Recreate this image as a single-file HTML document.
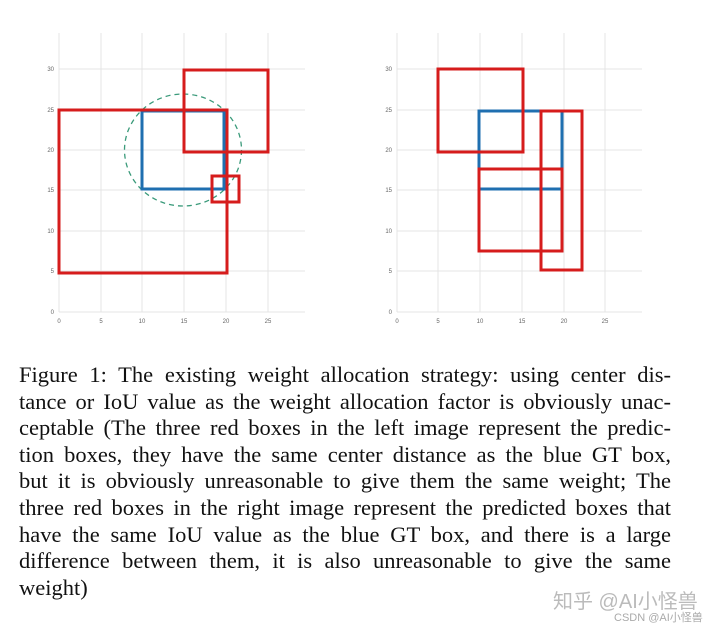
<!DOCTYPE html>
<html><head><meta charset="utf-8"><style>
body{margin:0;width:723px;height:629px;background:#fff;position:relative;overflow:hidden;font-family:"Liberation Serif",serif}
svg{position:absolute;left:0;top:0}
.cap{position:absolute;left:19px;width:652px;font-size:22.5px;color:#111}
.l{height:26.6px;line-height:26.6px;text-align:justify;text-align-last:justify;white-space:nowrap}
.l.last{text-align-last:left}
.wm{position:absolute;font-family:"Liberation Sans","Noto Sans CJK SC",sans-serif;color:#bbb}
</style></head><body>
<svg width="723" height="340" font-family="Liberation Sans, sans-serif" font-size="6" fill="#666">
<g stroke="#e4e4e4" stroke-width="1">
<line x1="59" y1="33" x2="59" y2="312"/><line x1="101" y1="33" x2="101" y2="312"/><line x1="142" y1="33" x2="142" y2="312"/><line x1="184" y1="33" x2="184" y2="312"/><line x1="226" y1="33" x2="226" y2="312"/><line x1="268" y1="33" x2="268" y2="312"/>
<line x1="59" y1="312" x2="305" y2="312"/><line x1="59" y1="271" x2="305" y2="271"/><line x1="59" y1="231" x2="305" y2="231"/><line x1="59" y1="190" x2="305" y2="190"/><line x1="59" y1="150" x2="305" y2="150"/><line x1="59" y1="110" x2="305" y2="110"/><line x1="59" y1="69" x2="305" y2="69"/>
<line x1="397" y1="33" x2="397" y2="312"/><line x1="438" y1="33" x2="438" y2="312"/><line x1="480" y1="33" x2="480" y2="312"/><line x1="522" y1="33" x2="522" y2="312"/><line x1="564" y1="33" x2="564" y2="312"/><line x1="605" y1="33" x2="605" y2="312"/>
<line x1="397" y1="312" x2="642" y2="312"/><line x1="397" y1="271" x2="642" y2="271"/><line x1="397" y1="231" x2="642" y2="231"/><line x1="397" y1="190" x2="642" y2="190"/><line x1="397" y1="150" x2="642" y2="150"/><line x1="397" y1="110" x2="642" y2="110"/><line x1="397" y1="69" x2="642" y2="69"/>
</g>
<g text-anchor="end">
<text x="54" y="314">0</text><text x="54" y="273">5</text><text x="54" y="233">10</text><text x="54" y="192">15</text><text x="54" y="152">20</text><text x="54" y="112">25</text><text x="54" y="71">30</text>
<text x="392" y="314">0</text><text x="392" y="273">5</text><text x="392" y="233">10</text><text x="392" y="192">15</text><text x="392" y="152">20</text><text x="392" y="112">25</text><text x="392" y="71">30</text>
</g>
<g text-anchor="middle">
<text x="59" y="323">0</text><text x="101" y="323">5</text><text x="142" y="323">10</text><text x="184" y="323">15</text><text x="226" y="323">20</text><text x="268" y="323">25</text>
<text x="397" y="323">0</text><text x="438" y="323">5</text><text x="480" y="323">10</text><text x="522" y="323">15</text><text x="564" y="323">20</text><text x="605" y="323">25</text>
</g>
<g fill="none" stroke-width="3">
<ellipse cx="183" cy="150" rx="58.5" ry="56" stroke="#3a9a7a" stroke-width="1.3" stroke-dasharray="5,4"/>
<rect x="142" y="111" width="82" height="78" stroke="#1f6fb0"/>
<rect x="59" y="110" width="168" height="163" stroke="#d61c1c"/>
<rect x="184" y="70" width="84" height="82" stroke="#d61c1c"/>
<rect x="212" y="176" width="27" height="26" stroke="#d61c1c"/>
<rect x="479" y="111" width="83" height="78" stroke="#1f6fb0"/>
<rect x="438" y="69" width="85" height="83" stroke="#d61c1c"/>
<rect x="479" y="169" width="83" height="82" stroke="#d61c1c"/>
<rect x="541" y="111" width="41" height="159" stroke="#d61c1c"/>
</g>
</svg>
<div class="cap" style="top:362px">
<div class="l">Figure 1: The existing weight allocation strategy: using center dis-</div>
<div class="l">tance or IoU value as the weight allocation factor is obviously unac-</div>
<div class="l">ceptable (The three red boxes in the left image represent the predic-</div>
<div class="l">tion boxes, they have the same center distance as the blue GT box,</div>
<div class="l">but it is obviously unreasonable to give them the same weight; The</div>
<div class="l">three red boxes in the right image represent the predicted boxes that</div>
<div class="l">have the same IoU value as the blue GT box, and there is a large</div>
<div class="l">difference between them, it is also unreasonable to give the same</div>
<div class="l last">weight)</div>
</div>
<div class="wm" style="left:553px;top:585px;font-size:20px">知乎 @AI小怪兽</div>
<div class="wm" style="left:614px;top:609px;font-size:11px;color:#aaa">CSDN @AI小怪兽</div>
</body></html>
